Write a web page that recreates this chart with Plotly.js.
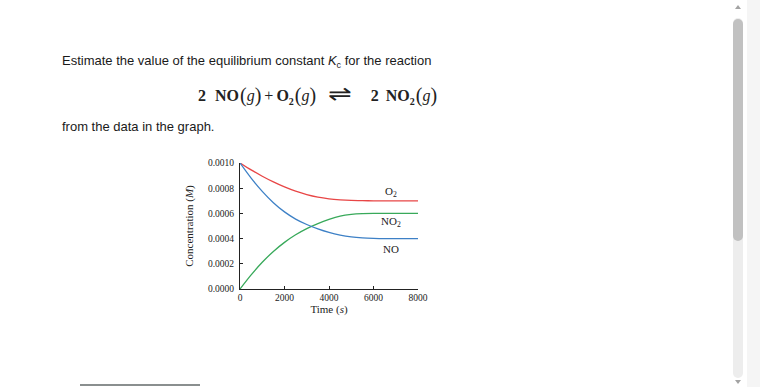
<!DOCTYPE html>
<html>
<head>
<meta charset="utf-8">
<script src="https://cdn.plot.ly/plotly-3.0.1.min.js"></script>
<style>
  html, body { margin:0; padding:0; }
  body { width:760px; height:387px; overflow:hidden; background:#fff; position:relative; }
  .q { position:absolute; left:62px; font-family:'Liberation Sans', Arial, sans-serif; font-size:13px; line-height:15px; color:#1a1a1a; white-space:nowrap; }
  .q .sb { font-size:9px; position:relative; top:3px; }
  .eq { position:absolute; left:198px; top:84px; display:flex; align-items:baseline; font-family:'Liberation Serif', serif; font-weight:bold; font-size:16px; color:#222; white-space:nowrap; }
  .eq span { line-height:1; }
  .eq .s { font-size:10px; position:relative; top:4px; }
  .eq .p { font-weight:normal; font-size:20px; position:relative; top:1px; }
  .eq .g { font-weight:normal; font-style:italic; font-size:16px; }
  .eq .pl { font-weight:normal; }
  .eq .arr { font-weight:normal; font-size:21px; font-family:'DejaVu Sans', sans-serif; display:inline-block; transform:scaleX(1.35); transform-origin:left center; }
  #chart { position:absolute; left:160px; top:140px; width:280px; height:190px; }
  #rule { position:absolute; left:80px; top:384px; width:120px; height:2px; background:#8a8f8f; }
  #strip { position:absolute; left:747px; top:0; width:13px; height:387px; background:#f5f5f5; }
  #track { position:absolute; left:733px; top:18px; width:10px; height:360px; background:#ededed; border-radius:5px; }
  #thumb { position:absolute; left:733px; top:19px; width:10px; height:222px; background:#c1c1c1; border-radius:5px; }
  #up { position:absolute; left:735px; top:5px; width:0; height:0; border-left:3px solid transparent; border-right:3px solid transparent; border-bottom:4px solid #a3a3a3; }
  #down { position:absolute; left:735px; top:380px; width:0; height:0; border-left:3px solid transparent; border-right:3px solid transparent; border-top:4px solid #a3a3a3; }
</style>
</head>
<body>
<div class="q" style="top:53px;">Estimate the value of the equilibrium constant <i>K</i><span class="sb">c</span> for the reaction</div>
<div class="eq"><span>2</span><span style="margin-left:9px">NO</span><span class="p" style="margin-left:1px">(</span><span class="g">g</span><span class="p">)</span><span class="pl" style="margin-left:3px">+</span><span style="margin-left:3px">O</span><span class="s">2</span><span class="p" style="margin-left:1px">(</span><span class="g">g</span><span class="p">)</span><span class="arr" style="margin-left:12px;margin-right:8px">⇌</span><span style="margin-left:17px">2</span><span style="margin-left:7px">NO</span><span class="s">2</span><span class="p" style="margin-left:1px">(</span><span class="g">g</span><span class="p">)</span></div>
<div class="q" style="top:119px;">from the data in the graph.</div>
<div id="chart"></div>
<div id="rule"></div>
<div id="strip"></div>
<div id="track"></div>
<div id="thumb"></div>
<div id="up"></div>
<div id="down"></div>
<script>
// Time (s)
const time = [0, 500, 1000, 1500, 2000, 2500, 3000, 3500, 4000, 4500, 5000, 5500, 6000, 6500, 7000, 7500, 8000];
// Concentrations (M)
const o2  = [0.001, 0.000945, 0.000895, 0.00085, 0.00081, 0.000776, 0.000749, 0.000729, 0.000716, 0.000708, 0.000703, 0.000701, 0.0007, 0.0007, 0.0007, 0.0007, 0.0007];
const no  = [0.001, 0.00088, 0.000775, 0.000685, 0.000612, 0.000555, 0.000512, 0.000477, 0.000449, 0.000428, 0.000414, 0.000406, 0.000402, 0.0004, 0.0004, 0.0004, 0.0004];
const no2 = [0, 0.000112, 0.000212, 0.000298, 0.00037, 0.00043, 0.000479, 0.000519, 0.000552, 0.000578, 0.000592, 0.000598, 0.0006, 0.0006, 0.0006, 0.0006, 0.0006];
// Curve labels
const labelText = ['O<sub>2</sub>', 'NO<sub>2</sub>', 'NO'];
const labelT = [6800, 6800, 6800];
const labelC = [0.00077, 0.000535, 0.000317];
const yTicks = [0, 0.0002, 0.0004, 0.0006, 0.0008, 0.001];
const xTicks = [0, 2000, 4000, 6000, 8000];

const serif = 'Liberation Serif, Times New Roman, serif';
const mk = (y, color) => ({ x: time, y: y, type: 'scatter', mode: 'lines', line: { color: color, width: 1.3, shape: 'spline', smoothing: 0.8 }, hoverinfo: 'skip', showlegend: false });
const data = [mk(o2, '#e84646'), mk(no2, '#38a95a'), mk(no, '#3d80c6')];

const layout = {
  width: 280, height: 190,
  margin: { l: 80, r: 22, t: 23, b: 41, pad: 0 },
  paper_bgcolor: 'rgba(0,0,0,0)', plot_bgcolor: 'rgba(0,0,0,0)',
  font: { family: serif, size: 10, color: '#222' },
  showlegend: false,
  xaxis: {
    range: [0, 8000], tickvals: xTicks, ticktext: xTicks.map(String),
    showgrid: false, zeroline: false, showline: true, linecolor: '#222', linewidth: 1,
    ticks: 'inside', ticklen: 3, tickcolor: '#222', tickfont: { family: serif, size: 9.5, color: '#222' },
    title: { text: 'Time (<i>s</i>)', font: { family: serif, size: 11, color: '#222' }, standoff: 0 },
    fixedrange: true
  },
  yaxis: {
    range: [0, 0.001], tickvals: yTicks, ticktext: yTicks.map(v => v.toFixed(4)),
    showgrid: false, zeroline: false, showline: true, linecolor: '#222', linewidth: 1,
    ticks: 'inside', ticklen: 3, tickcolor: '#222', tickfont: { family: serif, size: 9.5, color: '#222' },
    ticklabelstandoff: 3,
    title: { text: 'Concentration (<i>M</i>)', font: { family: serif, size: 11, color: '#222' }, standoff: 12 },
    fixedrange: true
  },
  annotations: labelText.map((t, i) => ({
    x: labelT[i], y: labelC[i], xref: 'x', yref: 'y', text: t, showarrow: false,
    font: { family: serif, size: 11, color: '#222' }
  }))
};
Plotly.newPlot('chart', data, layout, { staticPlot: true, displayModeBar: false });
</script>
</body>
</html>
